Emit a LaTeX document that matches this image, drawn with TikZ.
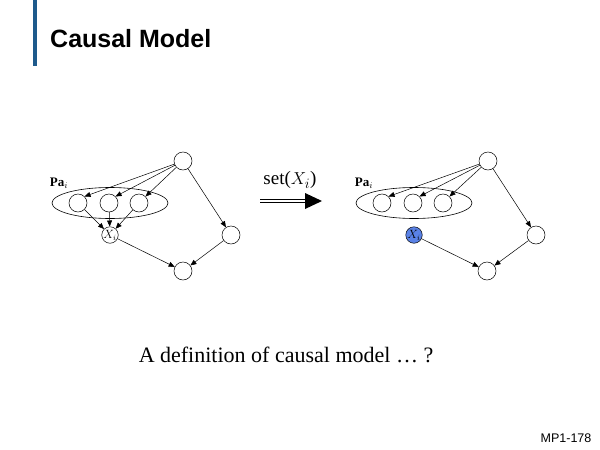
\documentclass[tikz,border=0pt]{standalone}
\usepackage{fontspec}
\setmainfont{Liberation Serif}
\setsansfont{Liberation Sans}
\usetikzlibrary{arrows.meta,shapes.geometric}
\definecolor{barblue}{RGB}{30,90,140}
\definecolor{nodeblue}{RGB}{90,130,230}
\tikzset{x=1pt,y=-1pt,
 vn/.style={circle,draw,line width=0.5pt,minimum size=18pt,inner sep=0pt,font=\fontsize{12}{12}\selectfont},
 ar/.style={-{Triangle[length=6pt,width=5pt]},line width=0.5pt},
 grp/.style={ellipse,draw,line width=0.6pt},
 palab/.style={font=\bfseries\fontsize{13}{13}\selectfont}}
\begin{document}
\begin{tikzpicture}
\useasboundingbox (0,0) rectangle (600,450);
\fill[barblue] (33,0) rectangle (37,66);
\node[anchor=west,inner sep=0pt,font=\sffamily\bfseries\fontsize{25}{25}\selectfont] (title) at (50,39) {Causal Model};
% left graph
\node[grp,minimum width=116pt,minimum height=31pt] (eL) at (110,203) {};
\node[vn] (tL) at (183,161) {};
\node[vn] (aL) at (78,203) {};
\node[vn] (bL) at (109,203) {};
\node[vn] (cL) at (139,203) {};
\node[vn,minimum size=16pt] (xL) at (110,235) {$X_i$};
\node[vn] (rL) at (231,235) {};
\node[vn] (dL) at (183,271) {};
\node[palab] (pL) at (59,183) {Pa$_i$};
\draw[ar] (tL) -- (aL.north east);
\draw[ar] (tL) -- (bL.north east);
\draw[ar] (tL) -- (cL.north east);
\draw[ar] (aL) -- (xL);
\draw[ar] (bL) -- (xL);
\draw[ar] (cL) -- (xL);
\draw[ar] (tL) -- (rL);
\draw[ar] (xL) -- (dL);
\draw[ar] (rL) -- (dL);
% arrow
\node[font=\fontsize{19}{19}\selectfont] (set) at (290,180) {set($X_i$)};
\coordinate (s0) at (260,201);
\coordinate (s1) at (306,201);
\draw[double,double distance=2.5pt,line width=1.2pt] (s0) -- (s1);
\fill (305,193) -- (322,201) -- (305,209) -- cycle;
% right graph
\node[grp,minimum width=116pt,minimum height=31pt] (eR) at (414,203) {};
\node[vn] (tR) at (488,161) {};
\node[vn] (aR) at (382,203) {};
\node[vn] (bR) at (413,203) {};
\node[vn] (cR) at (443,203) {};
\node[vn,minimum size=16pt,fill=nodeblue] (xR) at (414,235) {$X_i$};
\node[vn] (rR) at (536,235) {};
\node[vn] (dR) at (487,271) {};
\node[palab] (pR) at (364,183) {Pa$_i$};
\draw[ar] (tR) -- (aR.north east);
\draw[ar] (tR) -- (bR.north east);
\draw[ar] (tR) -- (cR.north east);
\draw[ar] (tR) -- (rR);
\draw[ar] (xR) -- (dR);
\draw[ar] (rR) -- (dR);
\node[font=\fontsize{22}{22}\selectfont] (def) at (286,355) {A definition of causal model \dots\ ?};
\node[font=\sffamily\fontsize{12.5}{12.5}\selectfont] (mp) at (566,438) {MP1-178};
\end{tikzpicture}
\end{document}
